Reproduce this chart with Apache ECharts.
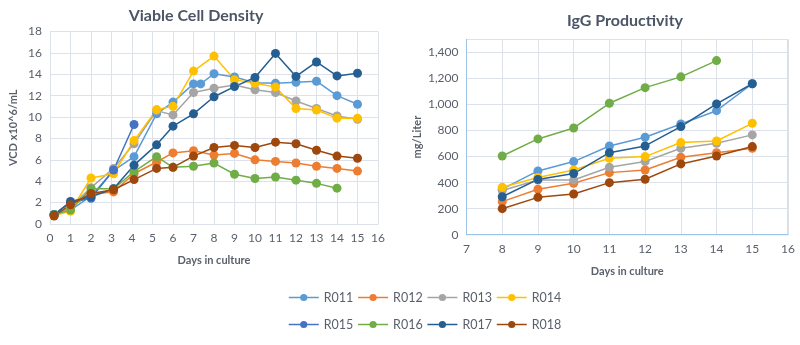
<!DOCTYPE html>
<html>
<head>
<meta charset="utf-8">
<script src="https://cdn.jsdelivr.net/npm/echarts@6/dist/echarts.min.js"></script>
<style>
  html, body { margin: 0; padding: 0; background: #fff; }
  #chart { width: 800px; height: 345px; }
</style>
</head>
<body>
<div id="chart"></div>
<script>
// Run names and colours
const runNames = ['R011', 'R012', 'R013', 'R014', 'R015', 'R016', 'R017', 'R018'];
const runColors = ['#5B9BD5', '#ED7D31', '#A5A5A5', '#FFC000', '#4472C4', '#70AD47', '#255E91', '#9E480E'];

// Viable cell density (x10^6 cells/mL) by day in culture
const vcdDays = [0.2, 1, 2, 3.1, 4.1, 5.2, 6, 7, 8, 9, 10, 11, 12, 13, 14, 15];
const r011Days = [0.2, 1, 2, 3.1, 4.1, 5.2, 6, 7, 7.35, 8, 9, 10, 11, 12, 13, 14, 15];
const vcdR011 = [0.9, 1.3, 2.6, 5.0, 6.3, 10.3, 11.4, 13.1, 13.1, 14.05, 13.75, 13.2, 13.15, 13.25, 13.35, 12.0, 11.2];
const vcdR012 = [0.8, 1.6, 2.8, 3.0, 4.7, 5.8, 6.65, 6.85, 6.45, 6.6, 6.0, 5.85, 5.7, 5.4, 5.2, 4.95];
const vcdR013 = [0.9, 1.6, 3.4, 5.2, 7.5, 10.6, 10.2, 12.3, 12.7, 13.0, 12.55, 12.3, 11.5, 10.8, 10.1, 9.8];
const vcdR014 = [0.8, 1.2, 4.3, 4.7, 7.8, 10.7, 11.0, 14.3, 15.7, 13.5, 13.15, 12.8, 10.8, 10.65, 9.9, 9.9];
const vcdR015 = [0.9, 2.0, 2.4, 5.05, 9.3];
const vcdR016 = [0.9, 1.3, 3.3, 3.3, 4.9, 6.3, 5.3, 5.4, 5.7, 4.65, 4.25, 4.4, 4.1, 3.8, 3.35];
const vcdR017 = [0.85, 2.1, 2.55, 3.3, 5.5, 7.4, 9.15, 10.3, 11.9, 12.85, 13.7, 15.95, 13.8, 15.15, 13.85, 14.1];
const vcdR018 = [0.75, 1.8, 2.85, 3.2, 4.15, 5.2, 5.3, 6.35, 7.15, 7.35, 7.15, 7.65, 7.5, 6.9, 6.35, 6.15];

// IgG titre (mg/L) by day in culture
const igDays = [8, 9, 10, 11, 12, 13, 14, 15];
const igR011 = [350, 490, 562, 682, 749, 851, 953, 1160];
const igR012 = [254, 349, 395, 477, 497, 595, 630, 664];
const igR013 = [340, 420, 420, 518, 562, 664, 703, 767];
const igR014 = [364, 440, 497, 587, 600, 708, 720, 856];
const igR016 = [605, 736, 820, 1010, 1130, 1213, 1338];
const igR017 = [292, 425, 470, 630, 682, 831, 1005, 1160];
const igR018 = [200, 287, 313, 400, 426, 544, 605, 677];

const vcdRuns = [
  ['R011', r011Days, vcdR011], ['R012', vcdDays, vcdR012], ['R013', vcdDays, vcdR013],
  ['R014', vcdDays, vcdR014], ['R015', vcdDays, vcdR015], ['R016', vcdDays, vcdR016],
  ['R017', vcdDays, vcdR017], ['R018', vcdDays, vcdR018]
];
const igRuns = [
  ['R011', igR011], ['R012', igR012], ['R013', igR013], ['R014', igR014],
  ['R016', igR016], ['R017', igR017], ['R018', igR018]
];

const FONT = 'Lato, "Liberation Sans", sans-serif';
const TEXT = '#595f6b';
const TITLE = '#4b5566';
const GRIDLINE = '#dde1e9';

const colorOf = name => runColors[runNames.indexOf(name)];
const pairs = (xs, ys) => ys.map((y, i) => [xs[i], y]);

function lineSeries(name, data, axisIndex) {
  return {
    name, type: 'line', data,
    xAxisIndex: axisIndex, yAxisIndex: axisIndex,
    symbol: 'circle', symbolSize: 9,
    color: colorOf(name),
    lineStyle: { width: 1.5 },
    itemStyle: { color: colorOf(name) },
    emphasis: { disabled: true },
    animation: false
  };
}

const series = [];
vcdRuns.forEach(([n, d, v]) => series.push(lineSeries(n, pairs(d, v), 0)));
igRuns.forEach(([n, v]) => series.push(lineSeries(n, pairs(igDays, v), 1)));

const axisLabel = { color: TEXT, fontFamily: FONT, fontSize: 12 };
const axisName = { color: TEXT, fontFamily: FONT, fontSize: 11, fontWeight: 'bold' };

// Legend keys: a short line with the run's marker on it
const legendBase = {
  left: 283, itemWidth: 30, itemHeight: 9, itemGap: 4,
  itemStyle: { borderWidth: 0 },
  lineStyle: { width: 1.5 },
  textStyle: { color: TEXT, fontFamily: FONT, fontSize: 12.5 },
  selectedMode: false
};

const option = {
  animation: false,
  title: [
    { text: 'Viable Cell Density', left: 191, top: 3, textAlign: 'center',
      textStyle: { color: TITLE, fontFamily: FONT, fontSize: 16, fontWeight: 'bold' } },
    { text: 'IgG Productivity', left: 620, top: 8, textAlign: 'center',
      textStyle: { color: TITLE, fontFamily: FONT, fontSize: 16, fontWeight: 'bold' } }
  ],
  legend: [
    Object.assign({}, legendBase, { top: 286, data: ['R011', 'R012', 'R013', 'R014'] }),
    Object.assign({}, legendBase, { top: 313, data: ['R015', 'R016', 'R017', 'R018'] })
  ],
  grid: [
    { left: 50, top: 31.5, width: 328, height: 192.5, show: false },
    { left: 466.5, top: 39.5, width: 321.5, height: 195.2, show: true,
      borderColor: '#9dc3e6', borderWidth: 1 }
  ],
  xAxis: [
    { type: 'value', gridIndex: 0, min: 0, max: 16, interval: 1,
      name: 'Days in culture', nameLocation: 'middle', nameGap: 31, nameTextStyle: axisName,
      axisLine: { lineStyle: { color: GRIDLINE } }, axisTick: { show: false },
      axisLabel, splitLine: { lineStyle: { color: GRIDLINE } } },
    { type: 'value', gridIndex: 1, min: 7, max: 16, interval: 1,
      name: 'Days in culture', nameLocation: 'middle', nameGap: 31, nameTextStyle: axisName,
      axisLine: { lineStyle: { color: '#9dc3e6' } }, axisTick: { show: false },
      axisLabel, splitLine: { lineStyle: { color: GRIDLINE } } }
  ],
  yAxis: [
    { type: 'value', gridIndex: 0, min: 0, max: 18, interval: 2,
      name: 'VCD x10^6/mL', nameLocation: 'middle', nameGap: 31, nameTextStyle: axisName,
      axisLine: { show: true, lineStyle: { color: GRIDLINE } }, axisTick: { show: false },
      axisLabel, splitLine: { lineStyle: { color: GRIDLINE } } },
    { type: 'value', gridIndex: 1, min: 0, max: 1500, interval: 200,
      name: 'mg/Liter', nameLocation: 'middle', nameGap: 44, nameTextStyle: axisName,
      axisLine: { show: true, lineStyle: { color: '#9dc3e6' } }, axisTick: { show: false },
      axisLabel: Object.assign({}, axisLabel, {
        showMaxLabel: false,
        formatter: v => v.toLocaleString('en-US')
      }),
      splitLine: { lineStyle: { color: GRIDLINE } } }
  ],
  series
};

const chart = echarts.init(document.getElementById('chart'), null, { renderer: 'canvas' });
chart.setOption(option);
</script>
</body>
</html>
